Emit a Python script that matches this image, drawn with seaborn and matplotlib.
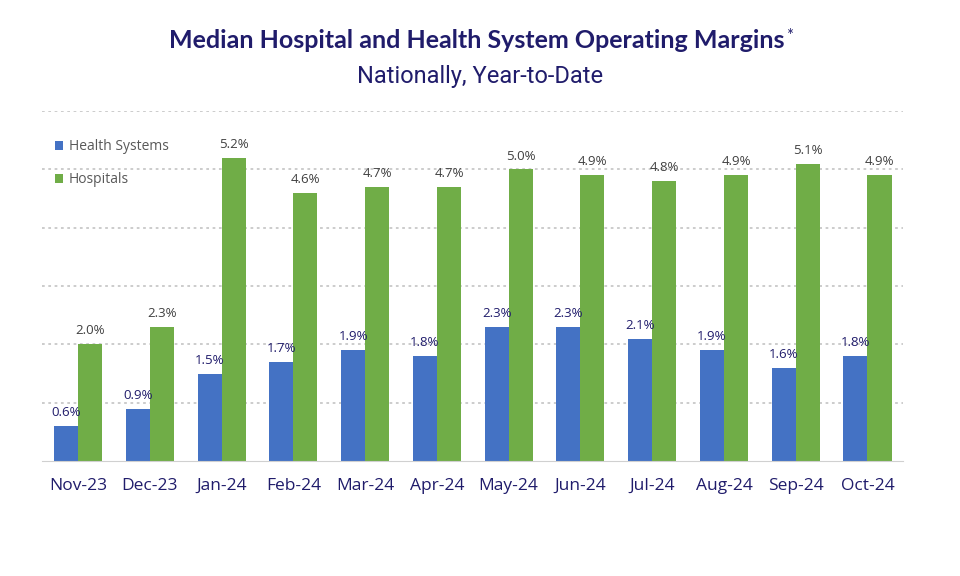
import numpy as np
import pandas as pd
import matplotlib
matplotlib.use("Agg")
import matplotlib.pyplot as plt
import seaborn as sns

# 数据
months = ["Nov-23", "Dec-23", "Jan-24", "Feb-24", "Mar-24", "Apr-24",
          "May-24", "Jun-24", "Jul-24", "Aug-24", "Sep-24", "Oct-24"]
health_systems = [0.6, 0.9, 1.5, 1.7, 1.9, 1.8, 2.3, 2.3, 2.1, 1.9, 1.6, 1.8]
hospitals = [2.0, 2.3, 5.2, 4.6, 4.7, 4.7, 5.0, 4.9, 4.8, 4.9, 5.1, 4.9]
series_names = ["Health Systems", "Hospitals"]

navy = "#201C6B"
gray = "#404040"
colors = ["#4472C4", "#70AD47"]

df = pd.DataFrame({
    "Month": months * 2,
    "Margin": health_systems + hospitals,
    "Series": [series_names[0]] * 12 + [series_names[1]] * 12,
})

sns.set_style("white")
plt.rcParams['font.family'] = ['Open Sans', 'DejaVu Sans']

fig = plt.figure(figsize=(9.6, 5.76), dpi=100)
ax = fig.add_axes([0.044, 0.1997, 0.897, 0.6073])

sns.barplot(data=df, x="Month", y="Margin", hue="Series", palette=colors,
            width=0.67, saturation=1, linewidth=0, ax=ax,
            order=months, hue_order=series_names)

ax.set_ylim(0, 6)
ax.set_xlim(-0.5, len(months) - 0.5)
ax.set_yticks(np.arange(1, 7, 1))
ax.yaxis.grid(True, linestyle=(0, (1.5, 2)), color="#C8C8C8", linewidth=1.3)
ax.set_axisbelow(True)
ax.tick_params(axis="y", left=False, labelleft=False)
for s in ["top", "right", "left"]:
    ax.spines[s].set_visible(False)
ax.spines["bottom"].set_color("#D0D0D0")

# category boundary ticks
ax.set_xticks(np.arange(-0.5, len(months), 1), minor=True)
ax.tick_params(axis="x", which="minor", length=7, color="#D0D0D0", direction="out")
ax.tick_params(axis="x", which="major", length=0, pad=12, labelsize=12.5, labelcolor=navy)
ax.set_xlabel("")
ax.set_ylabel("")

# data labels
label_colors = [navy, gray]
for cont, lc in zip(ax.containers, label_colors):
    ax.bar_label(cont, labels=[f"{v:.1f}%" for v in cont.datavalues],
                 padding=5, fontsize=9.5, color=lc)

leg = ax.legend(loc="upper left", bbox_to_anchor=(0.0, 0.955), frameon=False,
                fontsize=10, handlelength=0.6, handleheight=0.6,
                handletextpad=0.4, labelspacing=1.3)
for t in leg.get_texts():
    t.set_color("#595959")

title = fig.text(0.497, 0.93, "Median Hospital and Health System Operating Margins",
                 ha="center", va="center", fontsize=18, fontweight="bold", color=navy,
                 family=["Lato", "DejaVu Sans"])
fig.canvas.draw()
bb = title.get_window_extent().transformed(fig.transFigure.inverted())
fig.text(bb.x1 + 0.001, 0.938, "*", ha="left", va="center", fontsize=12, color=navy,
         family=["Lato", "DejaVu Sans"])
fig.text(0.5, 0.868, "Nationally, Year-to-Date", ha="center", va="center",
         fontsize=17, color=navy, family=["Roboto", "DejaVu Sans"])

fig.savefig("out.png", dpi=100)
